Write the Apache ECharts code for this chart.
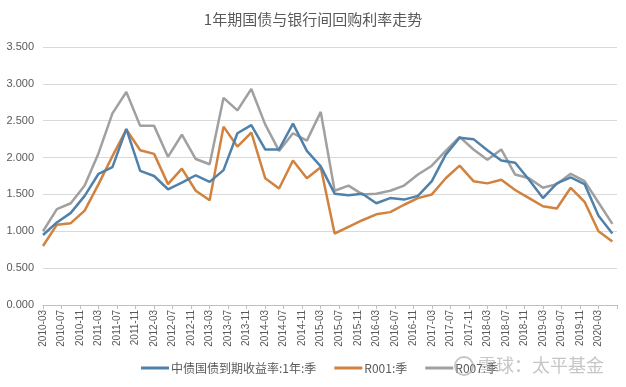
<!DOCTYPE html>
<html>
<head>
<meta charset="utf-8">
<script src="https://cdn.jsdelivr.net/npm/echarts@6/dist/echarts.min.js"></script>
<style>html,body{margin:0;padding:0;background:#fff;}#c{width:626px;height:387px;}</style>
</head>
<body>
<div id="c"></div>
<script>
// Quarterly observation dates
var quarters = [];
(function(){
  var y = 2010, m = 3;
  for (var i = 0; i < 42; i++) {
    quarters.push(y + '-' + (m < 10 ? '0' + m : m));
    m += 3; if (m > 12) { m -= 12; y++; }
  }
})();
// Monthly axis categories 2010-03 .. 2020-07
var months = [];
(function(){
  var y = 2010, m = 3;
  while (!(y === 2020 && m === 8)) {
    months.push(y + '-' + (m < 10 ? '0' + m : m));
    m++; if (m > 12) { m = 1; y++; }
  }
})();

var seriesNames = ['中债国债到期收益率:1年:季', 'R001:季', 'R007:季'];

var bond1y = [0.95,1.12,1.25,1.48,1.78,1.87,2.39,1.82,1.75,1.57,1.66,1.76,1.67,1.83,2.33,2.44,2.11,2.11,2.46,2.09,1.88,1.51,1.49,1.51,1.38,1.45,1.43,1.48,1.68,2.04,2.27,2.25,2.10,1.96,1.93,1.70,1.45,1.65,1.73,1.64,1.21,0.97];
var r001 = [0.80,1.09,1.11,1.28,1.64,2.02,2.38,2.10,2.05,1.64,1.85,1.55,1.42,2.42,2.15,2.34,1.72,1.58,1.96,1.72,1.87,0.97,1.06,1.15,1.23,1.26,1.36,1.45,1.50,1.72,1.89,1.68,1.65,1.70,1.56,1.45,1.34,1.31,1.59,1.40,1.00,0.86];
var r007 = [1.00,1.30,1.38,1.62,2.06,2.60,2.89,2.43,2.43,2.01,2.31,1.98,1.91,2.81,2.64,2.93,2.45,2.09,2.33,2.23,2.62,1.55,1.62,1.50,1.51,1.55,1.62,1.77,1.89,2.09,2.28,2.11,1.97,2.11,1.77,1.72,1.59,1.64,1.78,1.68,1.39,1.10];

var colors = ['#4f81ab', '#d1823e', '#a0a0a0'];

function pairs(vals) { return vals.map(function(v, i){ return [quarters[i], v]; }); }

var chart = echarts.init(document.getElementById('c'));
var txt = '#595959';
var font = '"Noto Sans CJK SC", "Noto Sans", sans-serif';
chart.setOption({
  animation: false,
  backgroundColor: '#fff',
  title: {
    text: '1年期国债与银行间回购利率走势',
    left: 'center', top: 7,
    textStyle: { fontFamily: font, fontSize: 15, fontWeight: 'normal', color: txt }
  },
  grid: { left: 43, right: 9, top: 47, bottom: 82, containLabel: false },
  legend: {
    data: seriesNames,
    bottom: 8, left: 136,
    icon: 'rect', itemWidth: 28, itemHeight: 3, itemGap: 18,
    textStyle: { fontFamily: font, fontSize: 12, color: txt, padding: [0,0,0,-3] }
  },
  xAxis: {
    type: 'category', data: months, boundaryGap: false,
    axisLine: { lineStyle: { color: '#bfbfbf' } },
    axisTick: { show: true, length: 4, interval: function(i){ return i % 4 === 0; }, lineStyle: { color: '#bfbfbf' } },
    axisLabel: {
      rotate: 90, fontFamily: 'Liberation Sans, sans-serif', fontSize: 10, color: txt, margin: 5,
      interval: function(i){ return i % 4 === 0 && i < months.length - 1; }
    },
    splitLine: { show: false }
  },
  yAxis: {
    type: 'value', min: 0, max: 3.5, interval: 0.5,
    axisLine: { show: false }, axisTick: { show: false },
    axisLabel: { fontFamily: 'Liberation Sans, sans-serif', fontSize: 11, color: txt, margin: 9,
      formatter: function(v){ return v.toFixed(3); } },
    splitLine: { lineStyle: { color: '#d9d9d9' } }
  },
  series: [
    { name: seriesNames[0], type: 'line', data: pairs(bond1y), symbol: 'none', color: colors[0], lineStyle: { width: 2.5 }, z: 3 },
    { name: seriesNames[1], type: 'line', data: pairs(r001), symbol: 'none', color: colors[1], lineStyle: { width: 2.5 }, z: 2 },
    { name: seriesNames[2], type: 'line', data: pairs(r007), symbol: 'none', color: colors[2], lineStyle: { width: 2.5 }, z: 1 }
  ],
  graphic: [
    { type: 'text', left: 478, top: 356, z: 100,
      style: { text: '雪球：太平基金', fontFamily: font, fontSize: 18, fill: 'rgba(160,160,160,0.6)' } },
    { type: 'circle', shape: { cx: 464, cy: 366, r: 9 }, z: 100,
      style: { fill: 'none', stroke: 'rgba(160,160,160,0.6)', lineWidth: 2 } }
  ]
});
</script>
</body>
</html>
